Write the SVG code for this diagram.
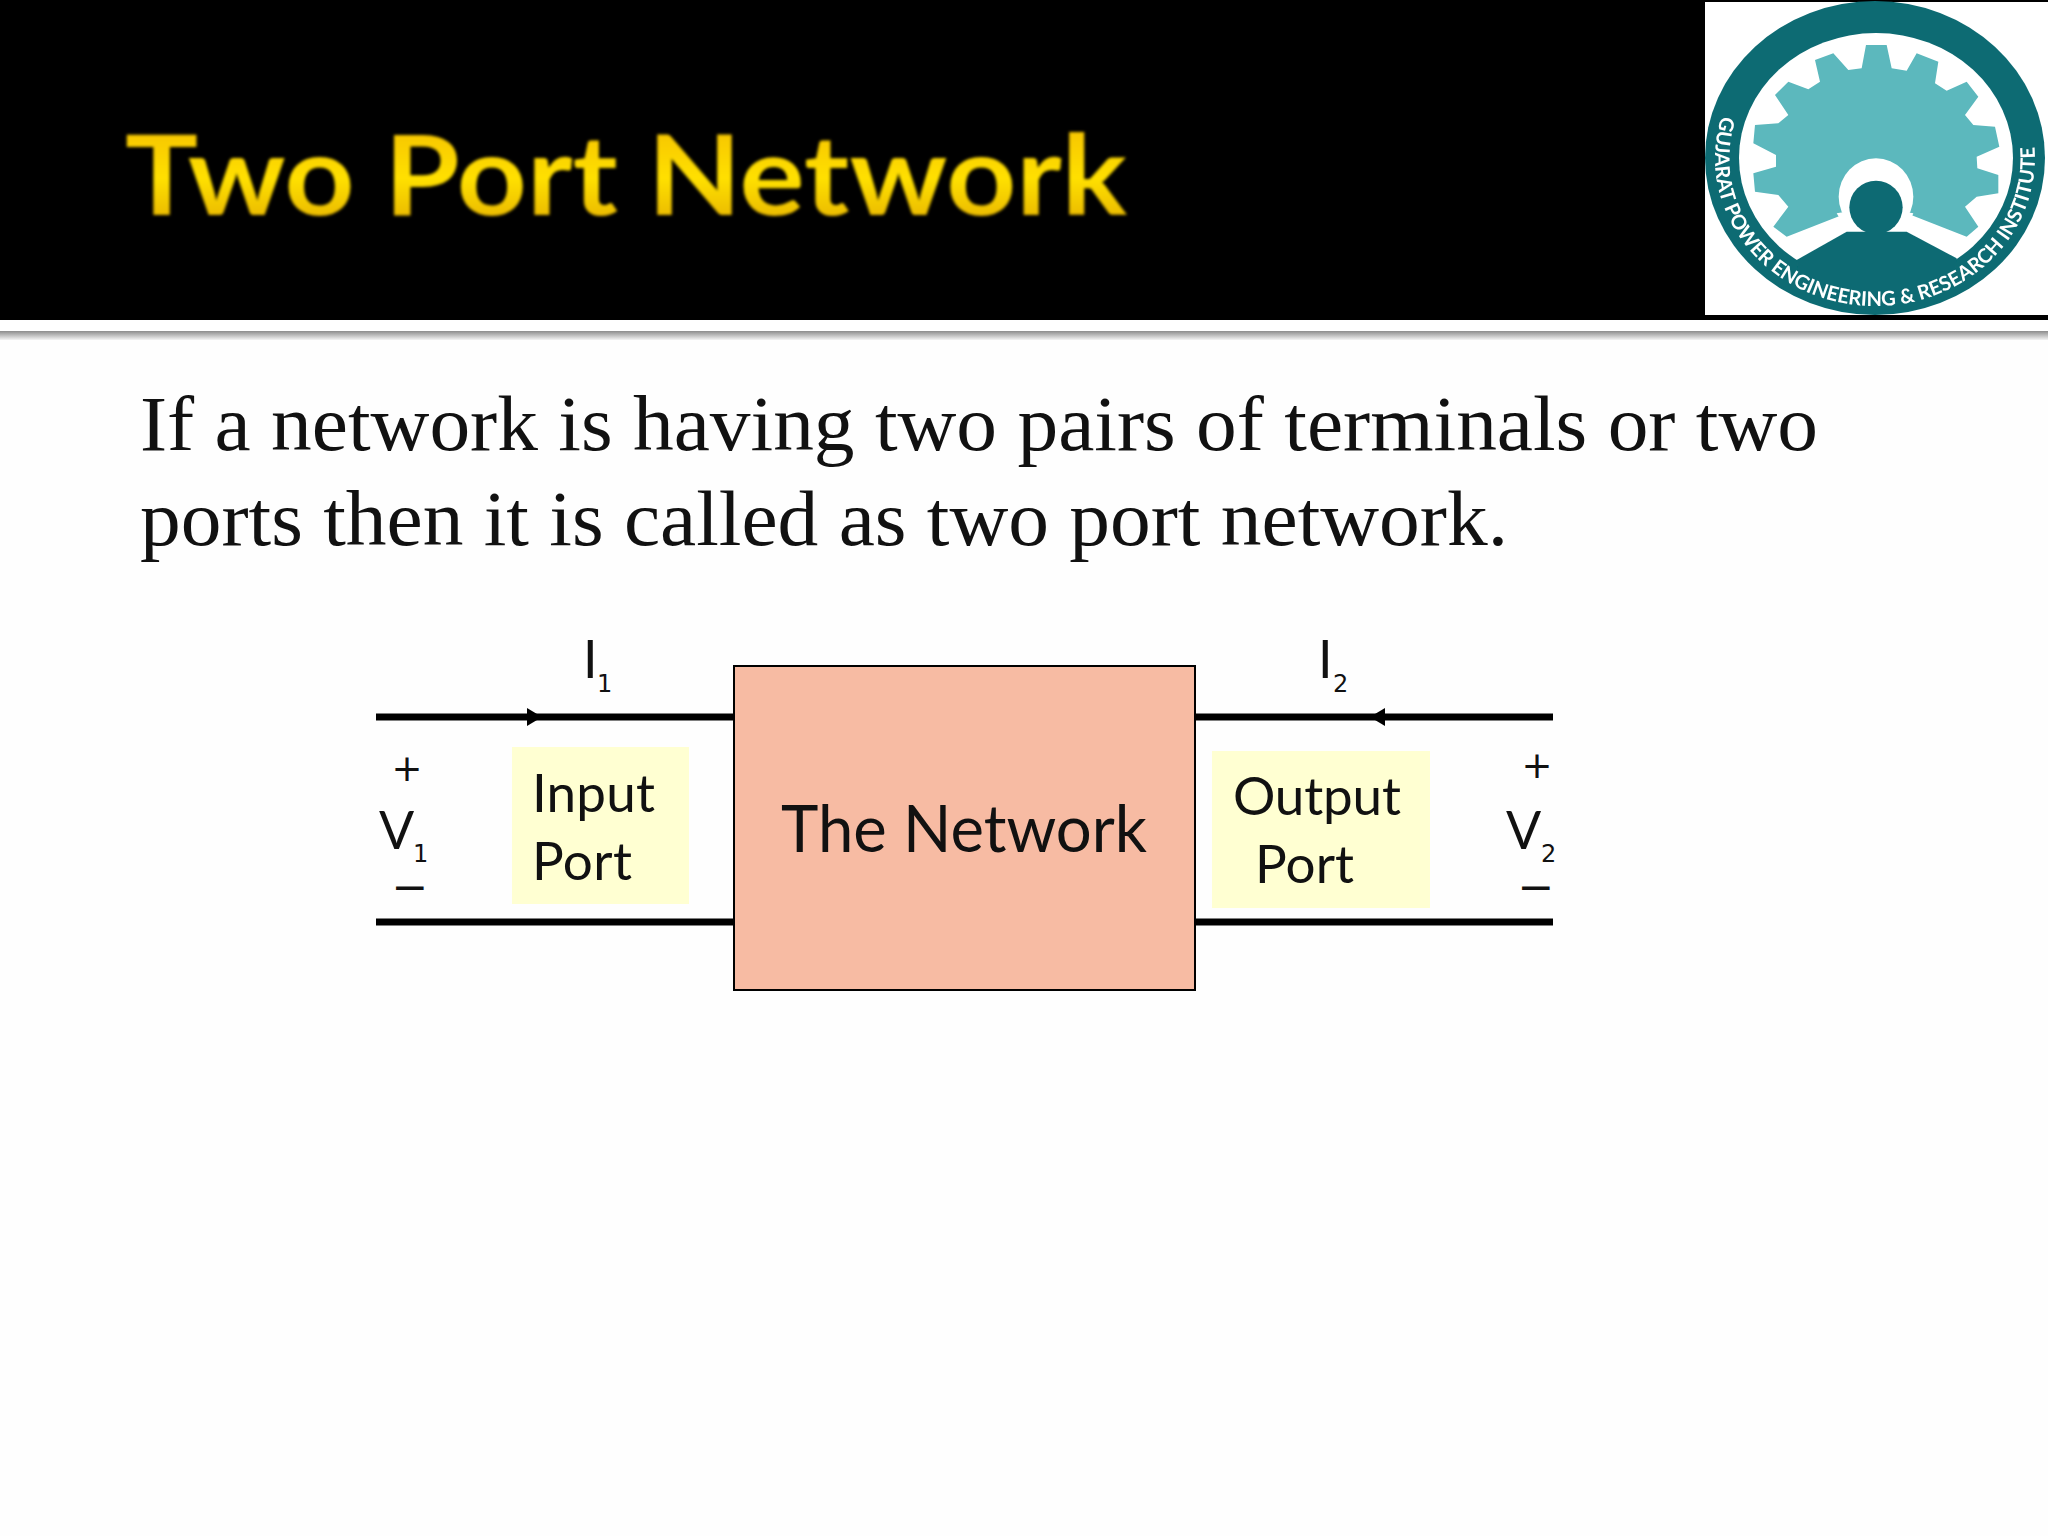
<svg xmlns="http://www.w3.org/2000/svg" width="2048" height="1536" viewBox="0 0 2048 1536">
<defs>
<linearGradient id="gold" x1="0" y1="0" x2="0" y2="1"><stop offset="0" stop-color="#f2b705"/><stop offset="0.55" stop-color="#ffe000"/><stop offset="1" stop-color="#e0a60a"/></linearGradient>
<linearGradient id="rule" x1="0" y1="0" x2="0" y2="1"><stop offset="0" stop-color="#8c8c8c"/><stop offset="1" stop-color="#f4f4f4"/></linearGradient>
<filter id="soft" x="-5%" y="-20%" width="110%" height="140%"><feGaussianBlur stdDeviation="1.6"/></filter>
<filter id="soft1"><feGaussianBlur stdDeviation="0.4"/></filter>
<path id="ringText" d="M1721.6 116 A160 148 0 1 0 2028.4 116"/>
</defs>
<style>
.lbl{font-family:"Lato","Open Sans",sans-serif;fill:#111}
.sym{font-family:"DejaVu Sans",sans-serif;fill:#111}
.sub{font-family:"DejaVu Sans",sans-serif;fill:#111;font-size:24px}
.wire{stroke:#000;stroke-width:7;fill:none}
.port{fill:#ffffd2}
.body{font-family:"Liberation Serif","Times New Roman",serif;font-size:78px;fill:#111}
</style>
<rect width="2048" height="1536" fill="#fefefe"/>
<g id="header">
<rect width="2048" height="320" fill="#000"/>
<rect y="320" width="2048" height="11" fill="#fff"/>
<rect y="331" width="2048" height="9" fill="url(#rule)"/>
<text x="125" y="215" font-family="Lato,'Open Sans',sans-serif" font-weight="700" font-size="112" textLength="1002" lengthAdjust="spacingAndGlyphs" fill="url(#gold)" filter="url(#soft)">Two Port Network</text>
</g>
<g id="logo">
<rect x="1705" y="2" width="343" height="313" fill="#fff"/>
<ellipse cx="1875" cy="158" rx="170" ry="157" fill="#0d6b73"/>
<ellipse cx="1876" cy="158" rx="137" ry="125" fill="#fff"/>
<g transform="translate(1690 0) scale(0.33333)" filter="url(#soft1)">
<path fill="#5bb8bd" d="M528 135L590 135L605 205L650 212L680 160L745 185L735 250L770 272L830 245L865 290L825 345L850 375L915 380L928 440L860 470L862 505L925 525L925 580L860 590L825 620L865 680L830 710L650 640L470 640L290 710L250 680L295 620L265 585L195 575L190 520L258 500L258 465L190 430L195 375L265 370L295 345L255 285L295 245L355 268L390 245L375 180L430 160L475 210L515 205Z"/>
<ellipse cx="558" cy="590" rx="112" ry="115" fill="#fff"/>
<path fill="#fff" d="M440 640L470 690L650 690L670 640L558 620Z"/>
<circle cx="558" cy="622" r="80" fill="#0d6b73"/>
<path fill="#0d6b73" d="M320 780L470 695L650 695L800 775L790 860L558 900L330 860Z"/>
</g>
<text font-family="Lato,'Liberation Sans',Arial,sans-serif" font-weight="700" font-size="20" fill="#fff" filter="url(#soft1)"><textPath href="#ringText" startOffset="0">GUJARAT POWER ENGINEERING &amp; RESEARCH INSTITUTE</textPath></text>
</g>
<g id="body-text">
<text class="body" x="140" y="450" textLength="1678" lengthAdjust="spacingAndGlyphs">If a network is having two pairs of terminals or two</text>
<text class="body" x="140" y="545" textLength="1368" lengthAdjust="spacingAndGlyphs">ports then it is called as two port network.</text>
</g>
<g id="connectors">
<path class="wire" d="M376 717H733M376 922H733M1195 717H1553M1195 922H1553"/>
<path d="M527 708L542 717L527 726Z" fill="#000"/>
<path d="M1385 708L1370 717L1385 726Z" fill="#000"/>
</g>
<g id="network">
<rect x="734" y="666" width="461" height="324" fill="#f7bba3" stroke="#000" stroke-width="2"/>
<text class="lbl" x="964" y="852" text-anchor="middle" font-size="66" textLength="366" lengthAdjust="spacingAndGlyphs">The Network</text>
</g>
<g id="input-port">
<rect class="port" x="512" y="747" width="177" height="157"/>
<text class="lbl" x="532" y="812" font-size="53" textLength="123">Input</text>
<text class="lbl" x="532" y="880" font-size="53" textLength="100">Port</text>
</g>
<g id="output-port">
<rect class="port" x="1212" y="751" width="218" height="157"/>
<text class="lbl" x="1233" y="815" font-size="53" textLength="168">Output</text>
<text class="lbl" x="1255" y="883" font-size="53" textLength="99">Port</text>
</g>
<g id="port-labels">
<text class="lbl" x="583" y="678" font-size="52">I</text><text class="sub" x="597" y="692">1</text>
<text class="lbl" x="1318" y="678" font-size="52">I</text><text class="sub" x="1333" y="692">2</text>
<text class="sym" x="407" y="781" font-size="37" text-anchor="middle">+</text>
<text class="lbl" x="379" y="849" font-size="52">V</text><text class="sub" x="413" y="862">1</text>
<text class="sym" x="410" y="902" font-size="44" text-anchor="middle">−</text>
<text class="sym" x="1537" y="778" font-size="37" text-anchor="middle">+</text>
<text class="lbl" x="1506" y="849" font-size="52">V</text><text class="sub" x="1541" y="862">2</text>
<text class="sym" x="1536" y="902" font-size="44" text-anchor="middle">−</text>
</g>
</svg>
